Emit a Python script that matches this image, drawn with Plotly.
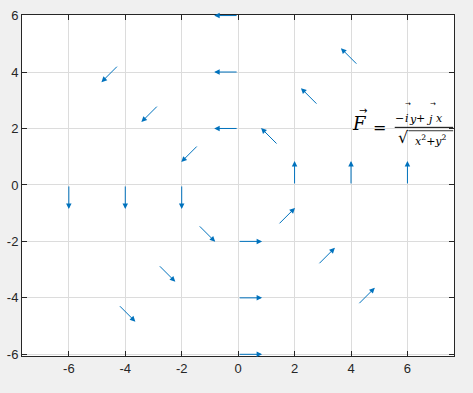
import plotly.graph_objects as go

# Arrow tail positions (points on circles of radius 2, 4, 6 every 45 degrees)
x_pos = [2, 1.414, 0, -1.414, -2, -1.414, 0, 1.414,
         4, 2.828, 0, -2.828, -4, -2.828, 0, 2.828,
         6, 4.243, 0, -4.243, -6, -4.243, 0, 4.243]
y_pos = [0, 1.414, 2, 1.414, 0, -1.414, -2, -1.414,
         0, 2.828, 4, 2.828, 0, -2.828, -4, -2.828,
         0, 4.243, 6, 4.243, 0, -4.243, -6, -4.243]
# Field components F = (-i y + j x)/sqrt(x^2+y^2)
u_val = [0, -0.707, -1, -0.707, 0, 0.707, 1, 0.707] * 3
v_val = [1, 0.707, 0, -0.707, -1, -0.707, 0, 0.707] * 3
arrow_scale = 0.85

x_ticks = [-6, -4, -2, 0, 2, 4, 6]
y_ticks = [-6, -4, -2, 0, 2, 4, 6]

color = "#0072BD"
axcol = "#262626"

fig = go.Figure()
fig.add_trace(go.Scatter(x=x_pos, y=y_pos, mode="markers",
                         marker=dict(size=1, color="rgba(0,0,0,0)"),
                         hoverinfo="skip", showlegend=False))

annots = []
for xt, yt, u, v in zip(x_pos, y_pos, u_val, v_val):
    annots.append(dict(
        x=xt + arrow_scale * u, y=yt + arrow_scale * v,
        ax=xt, ay=yt, xref="x", yref="y", axref="x", ayref="y",
        text="", showarrow=True, arrowhead=2, arrowsize=1.1,
        arrowwidth=1.0, arrowcolor=color, standoff=0, startstandoff=0))

serif = "DejaVu Serif"


def txt(x, y, s, size, family=serif):
    return dict(x=x, y=y, xref="x", yref="y", text=s, showarrow=False,
                xanchor="center", yanchor="middle",
                font=dict(family=family, size=size, color="black"))


annots += [
    txt(4.29, 2.17, "<i>F</i>", 18),
    txt(4.42, 2.64, "\u2192", 10, "DejaVu Sans"),
    txt(5.00, 2.02, "=", 16),
    # numerator
    txt(5.71, 2.36, "\u2212", 11),
    txt(5.97, 2.36, "<i>i</i>", 11),
    txt(6.02, 2.86, "\u2192", 7, "DejaVu Sans"),
    txt(6.18, 2.33, "<i>y</i>", 11),
    txt(6.48, 2.36, "+", 11),
    txt(6.79, 2.33, "<i>j</i>", 11),
    txt(6.89, 2.86, "\u2192", 7, "DejaVu Sans"),
    txt(7.12, 2.36, "<i>x</i>", 11),
    # denominator
    txt(5.85, 1.67, "\u221a", 16),
    txt(6.84, 1.58, "<i>x</i><sup>2</sup>+<i>y</i><sup>2</sup>", 11),
]

fig.add_shape(type="line", x0=5.55, x1=7.62, y0=2.04, y1=2.04, xref="x", yref="y",
              line=dict(color="black", width=1))
fig.add_shape(type="line", x0=6.04, x1=7.62, y0=1.92, y1=1.92, xref="x", yref="y",
              line=dict(color="black", width=0.8))

fig.update_layout(
    width=473, height=393,
    margin=dict(l=21.5, r=19, t=15, b=37),
    paper_bgcolor="#f0f0f0", plot_bgcolor="white",
    annotations=annots, showlegend=False,
    font=dict(family="Liberation Sans", size=13, color=axcol),
)
common = dict(showgrid=True, gridcolor="#dcdcdc", gridwidth=1, zeroline=False,
              showline=True, linecolor=axcol, linewidth=1, mirror="allticks",
              ticks="inside", ticklen=5, tickcolor=axcol, tickwidth=1,
              automargin=False,
              tickfont=dict(family="Liberation Sans", size=13, color=axcol))
fig.update_xaxes(range=[-7.66, 7.65], tickvals=x_ticks, ticktext=[str(t) for t in x_ticks], **common)
fig.update_yaxes(range=[-6.06, 6.02], tickvals=y_ticks, ticktext=[str(t) for t in y_ticks], **common)

fig.write_html("out.html")
